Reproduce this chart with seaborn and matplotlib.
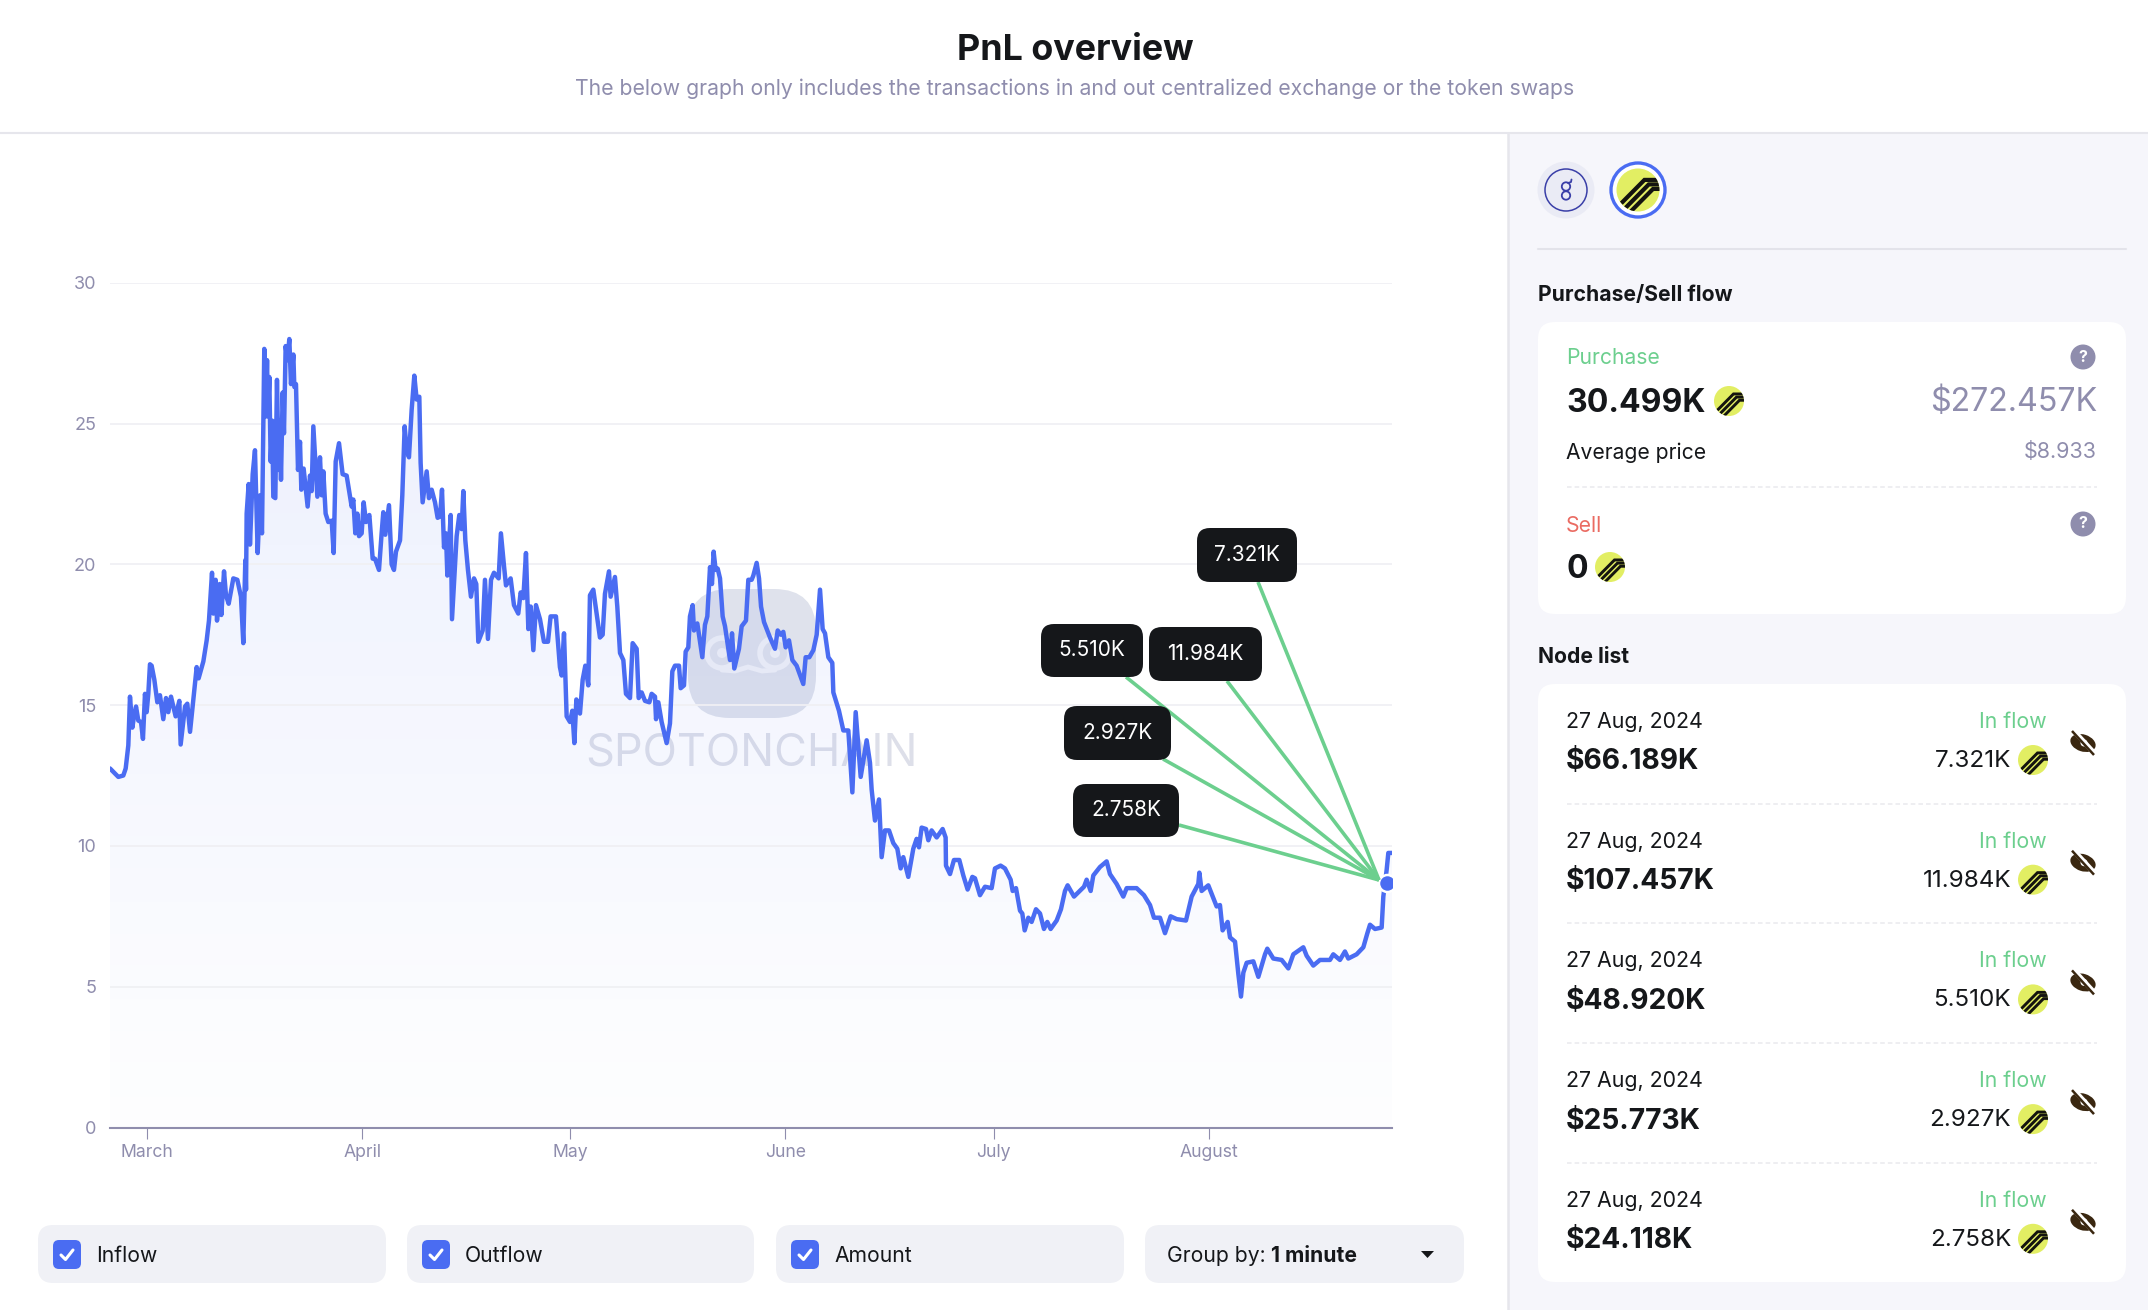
# PnL overview panel -- price line with node callouts and the side cards

import numpy as np
import pandas as pd
import matplotlib
matplotlib.use('Agg')
import matplotlib.pyplot as plt
import matplotlib.dates as mdates
from matplotlib.patches import Circle, Ellipse, FancyBboxPatch, Polygon
import seaborn as sns

# Data -----------------------------------------------------------------------
# days after 1 March 2024
days = [-5.33,-4.13,-3.41,-3.07,-2.69,-2.45,-2.11,-1.87,-1.58,-1.25,-0.86,-0.58,-0.29,-0.05,0.19,0.43,0.67,1.06,1.49,1.87,
    2.35,2.74,3.07,3.46,4.13,4.66,4.85,5.48,5.81,6.2,6.68,7.16,7.44,8.12,8.6,8.93,9.37,9.56,9.89,10.09,
    10.47,10.71,11.1,11.38,11.77,12.44,13.02,13.54,13.88,14.17,14.27,14.36,14.65,14.84,15.23,15.56,15.95,16.28,16.57,16.9,
    17.1,17.3,17.43,17.63,17.82,18.06,18.2,18.49,18.73,18.97,19.16,19.31,19.55,19.74,19.98,20.22,20.51,20.75,21.09,21.23,
    21.47,21.76,22.05,22.24,22.57,23.15,23.49,23.73,23.97,24.55,24.93,25.17,25.41,25.74,26.13,26.61,26.9,27.19,27.67,28.19,
    28.77,29.49,29.73,30.02,30.31,30.55,30.93,31.22,31.56,32.04,32.52,32.85,33.43,33.81,34.05,34.34,34.87,35.25,35.59,35.88,
    36.46,36.79,37.13,37.42,37.75,38.14,38.52,38.86,39.24,39.43,39.72,40.3,40.63,41.02,41.5,41.88,42.22,42.51,42.8,43.08,
    43.28,43.76,43.95,44.62,45.0,45.34,45.58,45.87,46.25,46.68,47.12,47.45,47.74,48.37,48.7,49.13,49.57,50.0,50.67,51.0,
    51.44,51.73,52.4,52.88,53.5,53.84,54.23,54.61,54.95,55.29,55.67,56.05,56.63,57.2,57.78,58.16,58.93,59.5,59.75,60.09,
    60.47,60.95,61.29,61.58,61.87,62.39,62.78,63.16,63.59,63.83,64.31,64.79,65.27,65.66,65.99,66.57,66.81,67.43,67.77,68.16,
    68.64,69.02,69.6,69.98,70.56,70.85,71.28,71.76,72.39,72.72,73.2,73.35,73.68,74.16,74.88,75.36,75.7,76.08,76.66,76.9,
    77.38,77.62,78.0,78.24,78.63,78.82,79.3,80.02,80.4,80.74,81.13,81.41,81.65,81.94,82.23,82.57,82.95,83.29,84.01,84.3,
    84.63,85.3,85.69,86.31,86.65,87.13,87.37,87.85,88.19,88.48,88.91,89.77,90.49,90.88,91.31,91.69,92.03,92.51,92.99,93.61,
    94.57,94.91,95.44,96.02,96.5,96.98,97.36,97.7,98.18,98.75,98.9,99.71,100.34,101.06,101.64,102.12,102.84,103.7,104.18,104.42,
    104.9,105.48,105.86,106.34,106.92,107.54,108.12,108.6,108.98,109.7,110.42,110.9,111.24,111.62,112.25,112.59,113.06,113.79,114.65,115.08,
    115.13,115.71,116.28,117.05,117.63,118.25,118.93,119.31,120.03,120.75,121.71,122.19,123.0,123.63,124.45,124.74,125.22,125.8,126.13,126.47,
    127.0,127.47,128.1,128.68,129.25,129.73,130.21,131.08,131.7,132.28,132.66,133.58,135.02,135.4,135.98,136.36,137.32,138.28,138.76,139.72,
    140.68,141.17,142.6,143.66,144.53,145.1,145.97,146.69,147.5,148.37,149.71,150.53,151.49,151.64,151.97,152.93,154.13,154.61,154.99,155.72,
    156.06,156.78,157.26,157.64,157.98,158.46,159.42,160.14,161.1,161.43,162.3,163.5,164.46,165.18,166.62,167.1,168.06,169.02,170.46,170.94,
    171.9,172.62,173.1,174.3,175.27,175.85,176.23,176.95,177.91,178.15,178.63,178.87,179.4]
price = [12.75,12.45,12.5,12.75,13.57,15.3,14.2,14.6,14.95,14.45,14.4,13.8,15.4,14.75,15.4,16.45,16.4,15.9,15.1,15.35,
    14.5,15.25,14.75,15.3,14.6,15.15,13.6,14.95,15.05,14.05,15.2,16.35,15.95,16.55,17.3,18.0,19.7,18.25,19.45,18.0,
    19.3,18.2,19.75,18.9,18.6,19.5,19.45,18.85,17.2,20.15,19.1,21.8,22.85,20.7,23.2,24.05,20.4,22.45,21.1,27.65,
    25.25,27.25,25.25,26.65,23.65,25.1,22.4,22.35,26.55,23.35,25.1,23.0,26.1,24.65,27.75,27.25,28.0,26.4,27.45,26.3,
    26.4,23.35,24.35,22.65,23.4,22.05,23.15,22.6,24.9,22.4,23.8,22.45,23.3,21.8,21.5,21.55,20.4,23.65,24.3,23.2,
    23.15,22.05,22.3,21.1,21.8,21.0,21.1,22.2,21.5,21.75,20.2,20.2,19.8,21.1,21.85,21.05,22.1,20.0,19.8,20.45,
    20.85,22.45,24.9,24.05,23.8,25.5,26.7,25.85,25.95,23.6,22.2,23.3,22.35,22.65,22.2,21.65,21.7,22.65,20.6,21.1,
    19.6,21.75,18.05,21.0,21.75,21.25,22.6,20.85,19.8,18.85,19.5,19.3,17.25,17.65,19.45,17.35,19.45,19.7,19.5,21.1,
    19.95,19.25,19.5,18.55,18.25,19.0,18.8,20.4,17.7,18.5,16.95,18.55,18.05,17.25,17.25,18.15,18.15,16.35,16.05,17.55,
    14.6,14.4,14.8,13.65,15.2,14.7,15.9,16.4,15.7,18.9,19.1,18.25,17.4,17.5,18.95,19.75,18.85,19.55,18.5,16.85,
    16.6,15.4,15.25,17.2,17.0,15.25,15.45,15.15,15.1,15.4,15.3,14.5,15.1,14.4,13.65,14.35,16.2,16.4,16.4,15.6,
    15.7,16.9,17.05,18.15,18.55,17.65,17.9,16.7,17.85,18.15,19.9,19.3,20.45,19.8,19.85,19.5,18.15,17.8,16.6,17.55,
    16.3,17.0,17.8,18.0,19.45,19.45,19.6,20.05,19.5,18.5,17.95,17.4,17.0,17.65,17.5,17.6,17.05,17.3,16.6,16.4,
    15.75,16.7,16.7,16.95,17.5,19.1,17.7,17.55,16.7,16.5,15.45,14.8,14.1,14.1,11.9,14.75,12.45,13.75,12.95,12.0,
    10.9,11.65,9.6,10.55,10.55,10.1,9.9,9.2,9.6,8.9,9.9,10.25,9.95,10.65,10.6,10.2,10.55,10.3,10.6,10.3,
    9.3,9.0,9.5,9.5,8.95,8.45,8.9,8.85,8.25,8.55,8.5,9.2,9.3,9.2,8.8,8.4,8.5,7.7,7.6,7.0,
    7.45,7.3,7.75,7.6,7.05,7.3,7.05,7.35,7.75,8.4,8.6,8.2,8.55,8.8,8.4,8.95,9.25,9.45,9.0,8.65,
    8.2,8.5,8.5,8.25,7.9,7.45,7.45,6.9,7.5,7.4,7.35,8.2,8.65,9.05,8.4,8.6,7.85,7.9,7.0,7.3,
    6.75,6.6,5.45,4.65,5.5,5.85,5.9,5.35,6.15,6.35,6.0,5.95,5.65,6.15,6.4,6.1,5.75,5.95,5.95,6.15,
    5.95,6.25,6.0,6.15,6.4,6.9,7.2,7.05,7.1,8.2,9.15,9.75,9.75]
y_ticks = [0, 5, 10, 15, 20, 25, 30]
node_day = 178.7
node_price = 8.67

node_amounts = ['7.321K', '11.984K', '5.510K', '2.927K', '2.758K']
node_usd = ['$66.189K', '$107.457K', '$48.920K', '$25.773K', '$24.118K']
node_date = '27 Aug, 2024'
checkboxes = ['Inflow', 'Outflow', 'Amount']

# Colours and fixed layout ---------------------------------------------------
blue = '#4a6cf2'
green = '#6ccf8e'
red = '#ea6b62'
grey = '#8f8dad'
ink = '#15171a'
panel_bg = '#f6f6fb'
line_grey = '#e6e6ec'
token_yellow = '#e2ee63'

W, H = 2148, 1310
plot_left, plot_right, plot_top, plot_bottom = 110, 1392, 282.7, 1127.5
fan_xy = (1379, 880)
# tag box (left, top, right, bottom) and where its line leaves the box
tag_boxes = [(1197, 528, 1297, 582), (1149, 627, 1262, 681), (1041, 624, 1143, 677), (1064, 706, 1171, 760), (1073, 784, 1179, 837)]
tag_starts = [(1258, 582), (1227, 681), (1126, 677), (1163, 759), (1179, 825)]

sns.set_theme(style='white')
plt.rcParams['font.family'] = ['Inter', 'DejaVu Sans']

fig = plt.figure(figsize=(W / 100, H / 100), dpi=100, facecolor='white')

# Back layer: panel backgrounds and the watermark ----------------------------
back = fig.add_axes([0, 0, 1, 1], zorder=0)
back.set_xlim(0, W)
back.set_ylim(H, 0)
back.axis('off')


def rbox(ax, x0, y0, x1, y1, r, color, **kw):
    ax.add_patch(FancyBboxPatch((x0 + r, y0 + r), x1 - x0 - 2 * r, y1 - y0 - 2 * r,
                                boxstyle='round,pad=%f,rounding_size=%f' % (r, r),
                                fc=color, ec='none', **kw))


back.add_patch(plt.Rectangle((1508, 133), W - 1508, H - 133, fc=panel_bg, ec='none'))
back.plot([0, W], [132.5, 132.5], color=line_grey, lw=1.5)
back.plot([1508, 1508], [133, H], color=line_grey, lw=1.8)

rbox(back, 688, 589, 816, 718, 42, '#dfe2ec')
for cx in (722, 775):
    back.add_patch(Circle((cx, 653), 15, fc='none', ec='#f1f2f7', lw=4))
    back.add_patch(Circle((cx, 653), 5, fc='#f1f2f7', ec='none'))
back.plot([722, 735, 748, 762, 775], [670, 671, 667, 671, 670], color='#f1f2f7', lw=3.5)
back.text(751, 754, 'SPOTONCHAIN', ha='center', va='center', fontsize=32.4, color='#dddfe9')

# Main chart -----------------------------------------------------------------
ax = fig.add_axes([plot_left / W, 1 - plot_bottom / H, (plot_right - plot_left) / W,
                   (plot_bottom - plot_top) / H], zorder=1)
ax.patch.set_alpha(0)

march_first = pd.Timestamp('2024-03-01')
df = pd.DataFrame({'date': march_first + pd.to_timedelta(days, unit='D'), 'price': price})

x_left = march_first + pd.to_timedelta(-5.33, unit='D')
x_right = march_first + pd.to_timedelta(179.4, unit='D')

# soft see-through gradient under the line, so the watermark still shows
fill = ax.fill_between(df['date'], df['price'], 0, color='none')
shade = np.zeros((256, 1, 4))
shade[:, :, 0] = 74 / 255
shade[:, :, 1] = 108 / 255
shade[:, :, 2] = 242 / 255
shade[:, 0, 3] = np.linspace(0.105, 0.008, 256)
grad = ax.imshow(shade, aspect='auto', zorder=1,
                 extent=[mdates.date2num(x_left), mdates.date2num(x_right), 0, 28.5])
grad.set_clip_path(fill.get_paths()[0], transform=ax.transData)

ax.grid(False)
for tick in y_ticks[1:]:
    ax.axhline(tick, color='#f0f0f4', lw=1.3, zorder=2)

sns.lineplot(data=df, x='date', y='price', estimator=None, sort=False, color=blue, linewidth=3.2,
             solid_joinstyle='round', ax=ax, zorder=3)
ax.scatter([march_first + pd.to_timedelta(node_day, unit='D')], [node_price], s=150, color=blue,
           edgecolor='white', linewidth=1.8, zorder=5)

ax.set_xlim(x_left, x_right)
ax.set_ylim(0, 30)
ax.set_xlabel('')
ax.set_ylabel('')
ax.set_yticks(y_ticks)
ax.xaxis.set_major_locator(mdates.MonthLocator())
ax.xaxis.set_major_formatter(mdates.DateFormatter('%B'))
ax.tick_params(axis='x', bottom=True, length=8, width=0.8, color=grey, labelsize=12.7, labelcolor=grey, pad=4)
ax.tick_params(axis='y', left=False, labelsize=13, labelcolor=grey, pad=4)
sns.despine(ax=ax, left=True)
ax.spines['bottom'].set_color(grey)
ax.spines['bottom'].set_linewidth(1.5)

# Front layer: header, tags and the side cards -------------------------------
ui = fig.add_axes([0, 0, 1, 1], zorder=2)
ui.set_xlim(0, W)
ui.set_ylim(H, 0)
ui.axis('off')


def label(x, y, s, size=15.2, color=ink, ha='left', weight='normal'):
    ui.text(x, y, s, fontsize=size, color=color, ha=ha, va='center', fontweight=weight)


def token(cx, cy, r):
    disc = Circle((cx, cy), r, fc=token_yellow, ec='none')
    ui.add_patch(disc)
    for k in (0, 1, 2):
        ox, oy = k * 0.2, k * 0.21
        px = [cx + r * (-0.78 + ox), cx + r * (0.3 + ox), cx + r * 1.05]
        py = [cy + r * (0.62 + oy), cy + r * (-0.47 + oy), cy + r * (-0.47 + oy)]
        stripe, = ui.plot(px, py, color='#14140f', lw=r * 0.14, solid_joinstyle='miter', solid_capstyle='butt')
        stripe.set_clip_path(disc)


def question(cx, cy):
    ui.add_patch(Circle((cx, cy), 12.5, fc=grey, ec='none'))
    ui.text(cx, cy, '?', color='white', fontsize=11.5, fontweight='bold', ha='center', va='center')


def eye_off(cx, cy):
    dark = '#3a2710'
    ui.add_patch(Ellipse((cx, cy), 26, 17, angle=18, fc=dark, ec='none'))
    ui.add_patch(Circle((cx + 1, cy), 3.5, fc='white', ec='none'))
    ui.plot([cx - 9, cx + 13], [cy - 12, cy + 12], color='white', lw=3.6, solid_capstyle='butt')
    ui.plot([cx - 11, cx + 11], [cy - 12, cy + 12], color=dark, lw=1.8, solid_capstyle='butt')


label(W / 2 + 1, 50, 'PnL overview', size=25.8, ha='center', weight='bold')
label(W / 2 + 1, 89, 'The below graph only includes the transactions in and out centralized exchange or the token swaps',
      size=15.25, color=grey, ha='center')

# callout lines and tags
for box, start, text in zip(tag_boxes, tag_starts, node_amounts):
    ui.plot([start[0], fan_xy[0]], [start[1], fan_xy[1]], color=green, lw=2.6, solid_capstyle='butt', zorder=3)
    rbox(ui, box[0], box[1], box[2], box[3], 13, ink, zorder=4)
    ui.text((box[0] + box[2]) / 2, (box[1] + box[3]) / 2, text, color='white', fontsize=15,
            ha='center', va='center', zorder=5)

# token picker
g_color = '#3a3fa8'
ui.add_patch(Circle((1566, 190), 28.5, fc='#eaebf5', ec='none'))
ui.add_patch(Circle((1566, 190), 21, fc='none', ec=g_color, lw=1.1))
ui.add_patch(Circle((1566, 186.5), 4.2, fc='none', ec=g_color, lw=1.3))
ui.add_patch(Circle((1566, 195.5), 4.2, fc='none', ec=g_color, lw=1.3))
ui.plot([1568, 1571, 1571.5], [183, 182, 179.5], color=g_color, lw=1.3)
ui.add_patch(Circle((1638, 190), 27, fc='white', ec=blue, lw=2.4))
token(1638, 190, 21.5)
ui.plot([1538, 2126], [248.7, 248.7], color='#e3e3ea', lw=1.5)

# purchase card
label(1538, 295, 'Purchase/Sell flow', weight='bold')
rbox(ui, 1538, 322, 2126, 614, 17, 'white')
label(1566, 358.5, 'Purchase', color=green)
question(2083, 357)
label(1566, 403, '30.499K', size=23, weight='bold')
token(1729, 401, 15)
label(2097, 403, '$272.457K', size=23.2, color=grey, ha='right')
label(1566, 453, 'Average price')
label(2097, 452, '$8.933', size=15.5, color=grey, ha='right')
ui.plot([1567, 2097], [487, 487], color='#e9e9ee', lw=1.1, ls=(0, (3, 2)))
label(1566, 525.5, 'Sell', color=red)
question(2083, 524)
label(1566, 569, '0', size=23, weight='bold')
token(1610, 567, 15)

# node list card
label(1538, 657, 'Node list', weight='bold')
rbox(ui, 1538, 684, 2126, 1282, 17, 'white')
row_gap = 119.7
for i, (usd, amount) in enumerate(zip(node_usd, node_amounts)):
    top = i * row_gap
    label(1566, 722 + top, node_date, size=15.4)
    label(1566, 762 + top, usd, size=20.3, weight='bold')
    label(2047, 722 + top, 'In flow', color=green, ha='right', size=15.3)
    label(2011, 761 + top, amount, ha='right', size=17.4)
    token(2033, 760 + top, 15)
    eye_off(2083, 743 + top)
    if i < 4:
        ui.plot([1567, 2097], [803.5 + top, 803.5 + top], color='#e9e9ee', lw=1.1, ls=(0, (3, 2)))

# checkbox row
for (x0, x1), text in zip([(38, 386), (407, 754), (776, 1124)], checkboxes):
    rbox(ui, x0, 1225, x1, 1283, 15, '#f0f1f6')
    rbox(ui, x0 + 15, 1240, x0 + 43, 1269, 6, blue)
    ui.plot([x0 + 23, x0 + 27.5, x0 + 35], [1255, 1259.5, 1250], color='white', lw=2.2,
            solid_capstyle='round', solid_joinstyle='round')
    label(x0 + 58, 1255.5, text)

rbox(ui, 1145, 1225, 1464, 1283, 15, '#f0f1f6')
label(1167, 1255.5, 'Group by:')
label(1271, 1255.5, '1 minute', weight='bold')
ui.add_patch(Polygon([(1421, 1251), (1434, 1251), (1427.5, 1258)], fc=ink, ec='none'))

fig.savefig('out.png', dpi=100)
